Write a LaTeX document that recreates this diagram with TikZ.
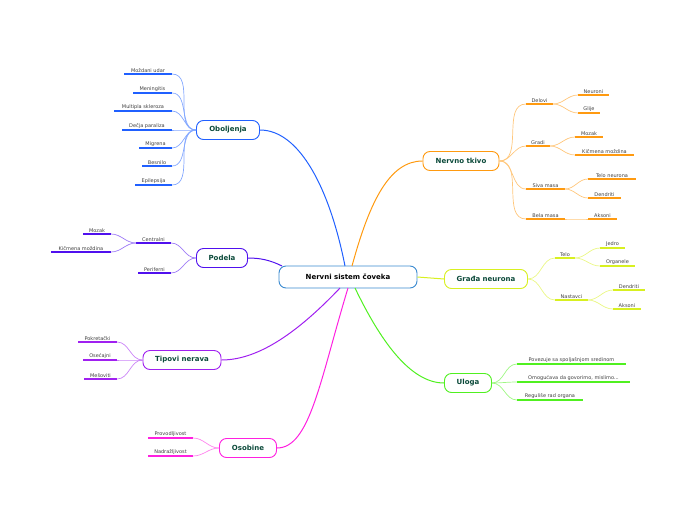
\documentclass[tikz,border=0pt]{standalone}
\usepackage{fontspec}
\setmainfont{DejaVu Sans}
\definecolor{cblue}{HTML}{2060FF}
\definecolor{cpurp}{HTML}{5010EE}
\definecolor{cviol}{HTML}{A020F0}
\definecolor{cmag}{HTML}{FF20E0}
\definecolor{corg}{HTML}{FF9A10}
\definecolor{cyel}{HTML}{D8F020}
\definecolor{cgrn}{HTML}{50F020}
\definecolor{ctext}{HTML}{0B4A3A}
\definecolor{centre}{HTML}{3A8AD0}
\newcommand{\lf}[6]{%
 \coordinate (#1-l) at (#2,#4); \coordinate (#1-r) at (#3,#4);
 \draw[#6,line width=1.2pt] (#1-l) -- (#1-r);
 \node[leaftext] (#1) at ({(#2+#3)/2},#4) {#5};}
\begin{document}
\begin{tikzpicture}[x=1pt,y=-1pt,
 main/.style={draw=#1,line width=0.9pt,rounded corners=7pt,fill=white,text=ctext,font=\fontsize{7}{8}\selectfont\bfseries,inner xsep=0pt,inner ysep=0pt,minimum height=19pt},
 leaftext/.style={anchor=south,inner sep=1.5pt,font=\fontsize{5}{6}\selectfont,text=black!75},
 con/.style={#1!55,line width=0.7pt}]
\useasboundingbox (0,0) rectangle (697,520);
% centre
\node[main=centre,minimum width=138pt,minimum height=22pt,text=black] (c) at (348,277) {Nervni sistem čoveka};
\node[main=cblue,minimum width=63pt] (ob) at (228,130) {Oboljenja};
\node[main=cpurp,minimum width=51pt] (po) at (222,258) {Podela};
\node[main=cviol,minimum width=78pt] (ti) at (182,360) {Tipovi nerava};
\node[main=cmag,minimum width=57pt] (os) at (248,448) {Osobine};
\node[main=corg,minimum width=76pt] (nt) at (461,161) {Nervno tkivo};
\node[main=cyel,minimum width=83pt] (gn) at (486,279) {Građa neurona};
\node[main=cgrn,minimum width=47pt] (ul) at (468,383) {Uloga};
% main connectors
\draw[cblue,line width=1pt] (345,266) .. controls (330,190) and (300,130) .. (ob.east);
\draw[cpurp,line width=1pt] (282,266) .. controls (270,260) and (260,258) .. (po.east);
\draw[cviol,line width=1pt] (340,288) .. controls (300,330) and (260,360) .. (ti.east);
\draw[cmag,line width=1pt] (348,288) .. controls (320,380) and (310,448) .. (os.east);
\draw[corg,line width=1pt] (352,266) .. controls (370,200) and (390,161) .. (nt.west);
\draw[cyel,line width=1pt] (c.east) -- (gn.west);
\draw[cgrn,line width=1pt] (355,288) .. controls (380,340) and (410,383) .. (ul.west);
% Oboljenja
\lf{o1}{124}{172}{74}{Moždani udar}{cblue}
\lf{o2}{133}{172}{93}{Meningitis}{cblue}
\lf{o3}{114}{172}{111}{Multipla skleroza}{cblue}
\lf{o4}{122}{172}{130}{Dečja paraliza}{cblue}
\lf{o5}{139}{172}{148}{Migrena}{cblue}
\lf{o6}{142}{172}{166}{Besnilo}{cblue}
\lf{o7}{135}{172}{185}{Epilepsija}{cblue}
\foreach \i in {1,...,7}{\draw[con=cblue] (ob.west) to[out=180,in=0] (o\i-r);}
% Podela
\lf{p1}{136}{171}{243}{Centralni}{cpurp}
\lf{p2}{138}{171}{273}{Periferni}{cpurp}
\lf{p11}{83}{111}{234}{Mozak}{cpurp}
\lf{p12}{51}{111}{252}{Kičmena moždina}{cpurp}
\foreach \i in {1,2}{\draw[con=cpurp] (po.west) to[out=180,in=0] (p\i-r);}
\foreach \i in {11,12}{\draw[con=cpurp] (p1-l) to[out=180,in=0] (p\i-r);}
% Tipovi
\lf{t1}{78}{117}{342}{Pokretački}{cviol}
\lf{t2}{83}{117}{360}{Osećajni}{cviol}
\lf{t3}{84}{117}{379}{Mešoviti}{cviol}
\foreach \i in {1,2,3}{\draw[con=cviol] (ti.west) to[out=180,in=0] (t\i-r);}
% Osobine
\lf{s1}{148}{193}{438}{Provodljivost}{cmag}
\lf{s2}{148}{193}{456}{Nadražljivost}{cmag}
\foreach \i in {1,2}{\draw[con=cmag] (os.west) to[out=180,in=0] (s\i-r);}
% Nervno tkivo
\lf{n1}{526}{553}{104}{Delovi}{corg}
\lf{n2}{526}{550}{146}{Gradi}{corg}
\lf{n3}{526}{565}{189}{Siva masa}{corg}
\lf{n4}{526}{565}{219}{Bela masa}{corg}
\foreach \i in {1,...,4}{\draw[con=corg] (nt.east) to[out=0,in=180] (n\i-l);}
\lf{n11}{578}{609}{95}{Neuroni}{corg}
\lf{n12}{578}{600}{113}{Glije}{corg}
\lf{n21}{575}{603}{137}{Mozak}{corg}
\lf{n22}{575}{634}{155}{Kičmena moždina}{corg}
\lf{n31}{588}{636}{179}{Telo neurona}{corg}
\lf{n32}{588}{621}{198}{Dendriti}{corg}
\lf{n41}{588}{617}{219}{Aksoni}{corg}
\foreach \p/\c in {1/11,1/12,2/21,2/22,3/31,3/32,4/41}{\draw[con=corg] (n\p-r) to[out=0,in=180] (n\c-l);}
% Grada neurona
\lf{g1}{555}{575}{258}{Telo}{cyel}
\lf{g2}{555}{588}{300}{Nastavci}{cyel}
\foreach \i in {1,2}{\draw[con=cyel] (gn.east) to[out=0,in=180] (g\i-l);}
\lf{g11}{600}{625}{248}{Jedro}{cyel}
\lf{g12}{600}{635}{266}{Organele}{cyel}
\lf{g21}{613}{645}{290}{Dendriti}{cyel}
\lf{g22}{613}{641}{309}{Aksoni}{cyel}
\foreach \p/\c in {1/11,1/12,2/21,2/22}{\draw[con=cyel] (g\p-r) to[out=0,in=180] (g\c-l);}
% Uloga
\lf{u1}{517}{626}{364}{Povezuje sa spoljašnjom sredinom}{cgrn}
\lf{u2}{517}{630}{382}{Omogućava da govorimo, mislimo...}{cgrn}
\lf{u3}{517}{583}{400}{Reguliše rad organa}{cgrn}
\foreach \i in {1,2,3}{\draw[con=cgrn] (ul.east) to[out=0,in=180] (u\i-l);}
\end{tikzpicture}
\end{document}
